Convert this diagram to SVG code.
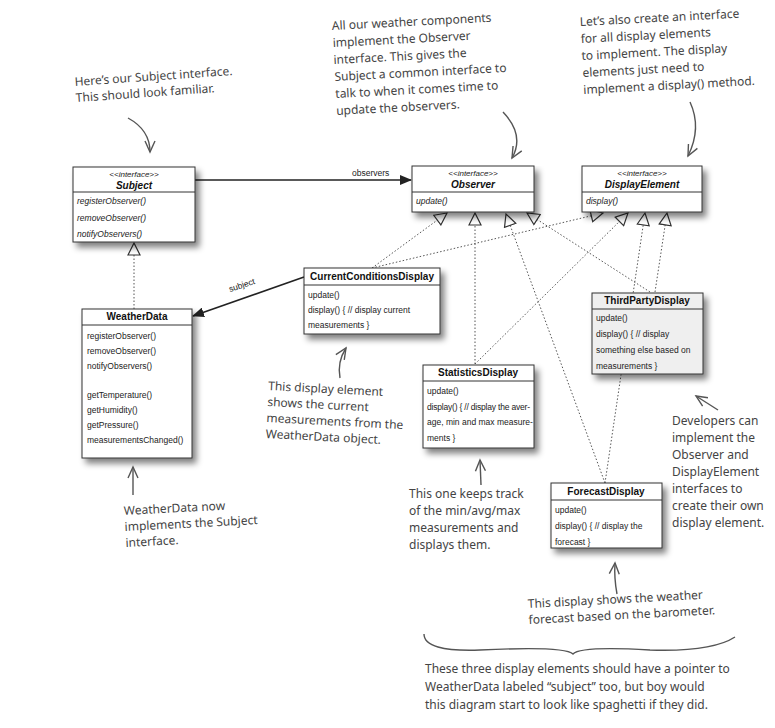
<svg xmlns="http://www.w3.org/2000/svg" width="775" height="728" viewBox="0 0 775 728">
<defs>
<filter id="sh" x="-10%" y="-10%" width="130%" height="140%"><feGaussianBlur in="SourceAlpha" stdDeviation="3"/><feOffset dx="4" dy="5"/><feComponentTransfer><feFuncA type="linear" slope="0.5"/></feComponentTransfer><feMerge><feMergeNode/><feMergeNode in="SourceGraphic"/></feMerge></filter>
<marker id="arr" viewBox="0 0 12 10" refX="11" refY="5" markerWidth="12" markerHeight="10" markerUnits="userSpaceOnUse" orient="auto"><path d="M0,0 L12,5 L0,10 Z" fill="#222"/></marker>
<marker id="tri" viewBox="0 0 14 14" refX="13" refY="7" markerWidth="14" markerHeight="14" markerUnits="userSpaceOnUse" orient="auto"><path d="M1,1 L13,7 L1,13 Z" fill="#fff" stroke="#333" stroke-width="1.2"/></marker>
<marker id="ha" viewBox="0 0 14 12" refX="12" refY="6" markerWidth="14" markerHeight="12" markerUnits="userSpaceOnUse" orient="auto"><path d="M1,1 L12,6 L1,11" fill="none" stroke="#555" stroke-width="1.4"/></marker>
</defs>
<style>
.box{fill:#fff;stroke:#333;stroke-width:1}
.t{font-family:"Liberation Sans",Arial,sans-serif;font-size:8.5px;fill:#222}
.h{font-family:"Liberation Sans",Arial,sans-serif;font-size:10px;font-weight:bold;fill:#111;text-anchor:middle}
.st{font-family:"Liberation Sans",Arial,sans-serif;font-size:8px;font-style:italic;fill:#222;text-anchor:middle}
.i{font-style:italic}
.dot{stroke:#555;stroke-width:1;stroke-dasharray:1.5 2;fill:none}
.an{font-family:"Noto Sans",sans-serif;font-size:12px;fill:#444}
.ap{fill:none;stroke:#555;stroke-width:1.4}
</style>
<g id="connectors">
<line x1="195" y1="180" x2="411" y2="180" stroke="#222" stroke-width="1.6" marker-end="url(#arr)"/>
<text x="352" y="176" class="t" font-size="10">observers</text>
<line x1="304" y1="277" x2="193" y2="316" stroke="#222" stroke-width="1.6" marker-end="url(#arr)"/>
<text x="230" y="292" class="t" font-size="10" transform="rotate(-18 230 292)">subject</text>
<line x1="134" y1="309" x2="134" y2="243" class="dot" marker-end="url(#tri)"/>
<line x1="372" y1="268" x2="447" y2="213" class="dot" marker-end="url(#tri)"/>
<line x1="372" y1="268" x2="603" y2="213" class="dot" marker-end="url(#tri)"/>
<line x1="475" y1="364" x2="475" y2="213" class="dot" marker-end="url(#tri)"/>
<line x1="475" y1="364" x2="628" y2="213" class="dot" marker-end="url(#tri)"/>
<line x1="605" y1="483" x2="506" y2="214" class="dot" marker-end="url(#tri)"/>
<line x1="605" y1="483" x2="645" y2="213" class="dot" marker-end="url(#tri)"/>
<line x1="650" y1="292" x2="527" y2="213" class="dot" marker-end="url(#tri)"/>
<line x1="655" y1="292" x2="667" y2="213" class="dot" marker-end="url(#tri)"/>
</g>
<g id="Subject">
<rect x="73" y="167" width="122" height="75" class="box" filter="url(#sh)"/>
<text x="134" y="177" class="st">&lt;&lt;interface&gt;&gt;</text>
<text x="134" y="189" class="h i">Subject</text>
<line x1="73" y1="192" x2="195" y2="192" stroke="#333"/>
<text x="77" y="204" class="t i">registerObserver()</text>
<text x="77" y="221" class="t i">removeObserver()</text>
<text x="77" y="237" class="t i">notifyObservers()</text>
</g>
<g id="Observer">
<rect x="412" y="166" width="122" height="46" class="box" filter="url(#sh)"/>
<text x="473" y="176" class="st">&lt;&lt;interface&gt;&gt;</text>
<text x="473" y="188" class="h i">Observer</text>
<line x1="412" y1="192" x2="534" y2="192" stroke="#333"/>
<text x="416" y="204" class="t i">update()</text>
</g>
<g id="DisplayElement">
<rect x="582" y="166" width="120" height="46" class="box" filter="url(#sh)"/>
<text x="642" y="176" class="st">&lt;&lt;interface&gt;&gt;</text>
<text x="642" y="188" class="h i">DisplayElement</text>
<line x1="582" y1="192" x2="702" y2="192" stroke="#333"/>
<text x="586" y="204" class="t i">display()</text>
</g>
<g id="CurrentConditionsDisplay">
<rect x="304" y="268" width="136" height="66" class="box" filter="url(#sh)"/>
<text x="372" y="280" class="h">CurrentConditionsDisplay</text>
<line x1="304" y1="285" x2="440" y2="285" stroke="#333"/>
<text x="308" y="298" class="t">update()</text>
<text x="308" y="313" class="t">display() { // display current</text>
<text x="308" y="328" class="t">measurements }</text>
</g>
<g id="WeatherData">
<rect x="82" y="309" width="110" height="149" class="box" filter="url(#sh)"/>
<text x="137" y="320" class="h">WeatherData</text>
<line x1="82" y1="325" x2="192" y2="325" stroke="#333"/>
<text x="87" y="339" class="t">registerObserver()</text>
<text x="87" y="354" class="t">removeObserver()</text>
<text x="87" y="369" class="t">notifyObservers()</text>
<text x="87" y="398" class="t">getTemperature()</text>
<text x="87" y="413" class="t">getHumidity()</text>
<text x="87" y="428" class="t">getPressure()</text>
<text x="87" y="443" class="t">measurementsChanged()</text>
</g>
<g id="StatisticsDisplay">
<rect x="423" y="365" width="111" height="83" class="box" filter="url(#sh)"/>
<text x="478" y="376" class="h">StatisticsDisplay</text>
<line x1="423" y1="381" x2="534" y2="381" stroke="#333"/>
<text x="427" y="394" class="t">update()</text>
<text x="427" y="410" class="t" textLength="103">display() { // display the aver-</text>
<text x="427" y="425" class="t">age, min and max measure-</text>
<text x="427" y="441" class="t">ments }</text>
</g>
<g id="ThirdPartyDisplay">
<rect x="592" y="293" width="111" height="81" fill="#efefef" stroke="#333" filter="url(#sh)"/>
<text x="647" y="304" class="h">ThirdPartyDisplay</text>
<line x1="592" y1="309" x2="703" y2="309" stroke="#333"/>
<text x="596" y="321" class="t">update()</text>
<text x="596" y="337" class="t">display() { // display</text>
<text x="596" y="353" class="t">something else based on</text>
<text x="596" y="369" class="t">measurements }</text>
</g>
<g id="ForecastDisplay">
<rect x="551" y="483" width="111" height="65" class="box" filter="url(#sh)"/>
<text x="606" y="495" class="h">ForecastDisplay</text>
<line x1="551" y1="500" x2="662" y2="500" stroke="#333"/>
<text x="555" y="513" class="t">update()</text>
<text x="555" y="529" class="t">display() { // display the</text>
<text x="555" y="545" class="t">forecast }</text>
</g>
<g id="annotations">
<g transform="rotate(-4 75 86)">
<text x="75" y="86" class="an">Here’s our Subject interface.</text>
<text x="75" y="102" class="an">This should look familiar.</text>
</g>
<path d="M128,118 Q150,130 150,152" class="ap" marker-end="url(#ha)"/>
<g transform="rotate(-3 332 30)">
<text x="332" y="30" class="an">All our weather components</text>
<text x="332" y="47" class="an">implement the Observer</text>
<text x="332" y="64" class="an">interface. This gives the</text>
<text x="332" y="81" class="an">Subject a common interface to</text>
<text x="332" y="98" class="an">talk to when it comes time to</text>
<text x="332" y="115" class="an">update the observers.</text>
</g>
<path d="M503,112 Q525,135 512,158" class="ap" marker-end="url(#ha)"/>
<g transform="rotate(-3 580 26)">
<text x="580" y="26" class="an">Let’s also create an interface</text>
<text x="580" y="43" class="an">for all display elements</text>
<text x="580" y="60" class="an">to implement. The display</text>
<text x="580" y="77" class="an">elements just need to</text>
<text x="580" y="94" class="an">implement a display() method.</text>
</g>
<path d="M690,102 Q702,128 688,156" class="ap" marker-end="url(#ha)"/>
<path d="M340,378 Q337,362 346,348" class="ap" marker-end="url(#ha)"/>
<g transform="rotate(3 268 390)">
<text x="268" y="390" class="an">This display element</text>
<text x="268" y="406" class="an">shows the current</text>
<text x="268" y="422" class="an">measurements from the</text>
<text x="268" y="438" class="an">WeatherData object.</text>
</g>
<path d="M133,495 L133,467" class="ap" marker-end="url(#ha)"/>
<g transform="rotate(-3 124 515)">
<text x="124" y="515" class="an">WeatherData now</text>
<text x="124" y="531" class="an">implements the Subject</text>
<text x="124" y="547" class="an">interface.</text>
</g>
<path d="M481,485 L480,460" class="ap" marker-end="url(#ha)"/>
<text x="409" y="498" class="an">This one keeps track</text>
<text x="409" y="515" class="an">of the min/avg/max</text>
<text x="409" y="532" class="an">measurements and</text>
<text x="409" y="549" class="an">displays them.</text>
<path d="M718,410 L696,396" class="ap" marker-end="url(#ha)"/>
<text x="672" y="425" class="an">Developers can</text>
<text x="672" y="442" class="an">implement the</text>
<text x="672" y="459" class="an">Observer and</text>
<text x="672" y="476" class="an">DisplayElement</text>
<text x="672" y="493" class="an">interfaces to</text>
<text x="672" y="510" class="an">create their own</text>
<text x="672" y="527" class="an">display element.</text>
<path d="M617,594 Q614,578 615,563" class="ap" marker-end="url(#ha)"/>
<g transform="rotate(-3 528 608)">
<text x="528" y="608" class="an">This display shows the weather</text>
<text x="528" y="624" class="an">forecast based on the barometer.</text>
</g>
<path d="M424,634 Q424,652 480,650 Q565,646 573,654 Q580,646 650,650 Q712,652 735,637" class="ap"/>
<text x="425" y="673" class="an">These three display elements should have a pointer to</text>
<text x="425" y="691" class="an">WeatherData labeled “subject” too, but boy would</text>
<text x="425" y="709" class="an">this diagram start to look like spaghetti if they did.</text>
</g>
</svg>
